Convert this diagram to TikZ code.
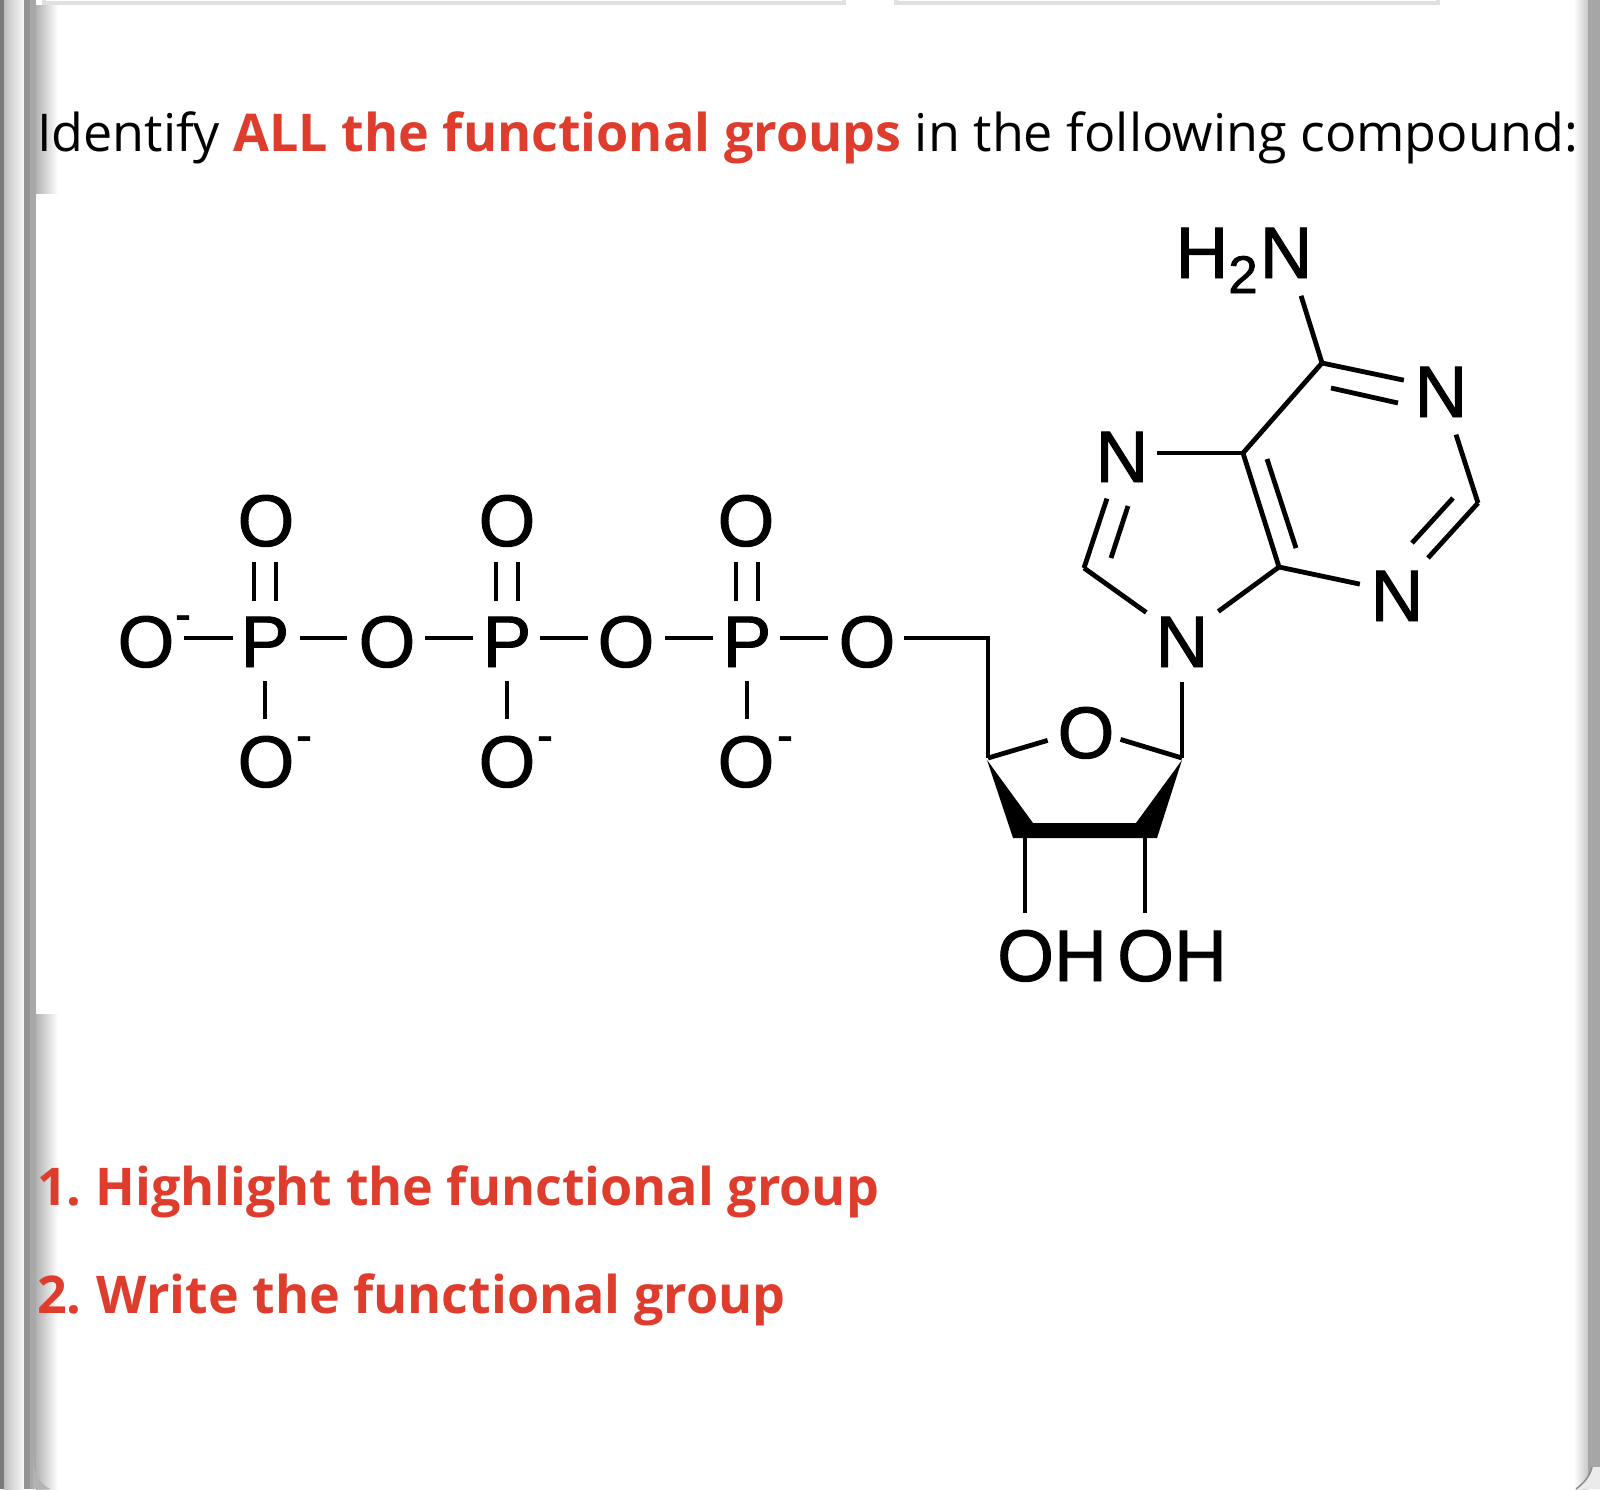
\documentclass[tikz,border=0pt]{standalone}
\usepackage{fontspec}
\setmainfont{Open Sans}
\newfontfamily\chemfont[FakeBold=1.3]{Liberation Sans}
\definecolor{qred}{HTML}{DE3D2E}
\tikzset{
  atom/.style={inner sep=0pt,outer sep=0pt,text height=58pt,text depth=0pt,anchor=center,
    font=\chemfont\fontsize{73}{80}\selectfont},
  charge/.style={inner sep=0pt,outer sep=0pt,anchor=center,font=\chemfont\fontsize{48}{50}\selectfont},
  bondline/.style={line width=4.8pt,black,line cap=butt,line join=miter},
  wedgefill/.style={fill=black,draw=none},
  titletext/.style={inner sep=0pt,outer sep=0pt,anchor=base west,font=\fontsize{52.07}{60}\selectfont},
  redtext/.style={titletext,text=qred,font=\fontsize{52}{60}\selectfont\bfseries},
  boxedge/.style={draw=black!12,line width=4pt}
}
\begin{document}
\begin{tikzpicture}[x=1pt,y=-1pt]
\useasboundingbox (0,0) rectangle (1600,1489);
\fill[white] (0,0) rectangle (1600,1489);
% window edges
\fill[black!52] (0,0) rectangle (4,1489);
\shade[left color=black!25,right color=black!2] (4,0) rectangle (24,1489);
\fill[black!42] (24,0) rectangle (30,1489);
\fill[black!34] (30,0) rectangle (36,1489);
\shade[left color=black!30,right color=white] (36,5) rectangle (58,193);
\shade[left color=black!30,right color=white] (36,1014) rectangle (58,1489);
\shade[left color=white,right color=black!22] (1574,0) rectangle (1588,1489);
\fill[black!35] (1588,0) rectangle (1600,1489);
\fill[black!30] (33,1460) .. controls (35,1475) and (40,1484) .. (50,1489) -- (33,1489) -- cycle;
\fill[black!8] (1592,1467) .. controls (1590,1476) and (1584,1483) .. (1576,1489) -- (1600,1489) -- (1600,1467) -- cycle;
\draw[black!45,line width=1.5pt] (1592,1467) .. controls (1590,1476) and (1584,1483) .. (1576,1489);
% top boxes
\draw[boxedge] (44,0) -- (44,3) -- (844,3) -- (844,0);
\draw[boxedge] (896,0) -- (896,3) -- (1438,3) -- (1438,0);

% texts
\node[titletext] (title) at (37,151) {Identify \textcolor{qred}{\bfseries ALL the functional groups} in the following compound:};
\node[redtext] (item1) at (37,1205) {1.\kern-4pt{} Highlight the functional group};
\node[redtext] (item2) at (37,1313) {2.\kern-3pt{} Write the functional group};

% phosphate atoms
\node[atom] (O0) at (146,638) {O};
\node[atom] (P1) at (265,638) {P};
\node[atom] (O1) at (387,638) {O};
\node[atom] (P2) at (507,638) {P};
\node[atom] (O2) at (626,638) {O};
\node[atom] (P3) at (747,638) {P};
\node[atom] (O3) at (867,638) {O};
\node[atom] (T1) at (266,517) {O};
\node[atom] (T2) at (507,517) {O};
\node[atom] (T3) at (746,517) {O};
\node[atom] (B1) at (266,758) {O};
\node[atom] (B2) at (507,758) {O};
\node[atom] (B3) at (746,758) {O};
\node[charge] (m0) at (183,623) {-};
\node[charge] (m1) at (304,744) {-};
\node[charge] (m2) at (545,744) {-};
\node[charge] (m3) at (785,744) {-};

% phosphate bonds
\draw[bondline,shorten <=38pt,shorten >=32pt] (O0.center) -- (P1.center);
\draw[bondline,shorten <=35pt,shorten >=40pt] (P1.center) -- (O1.center);
\draw[bondline,shorten <=38pt,shorten >=34pt] (O1.center) -- (P2.center);
\draw[bondline,shorten <=33pt,shorten >=38pt] (P2.center) -- (O2.center);
\draw[bondline,shorten <=39pt,shorten >=34pt] (O2.center) -- (P3.center);
\draw[bondline,shorten <=33pt,shorten >=39pt] (P3.center) -- (O3.center);
\foreach \pp/\tt/\bb in {P1/T1/B1,P2/T2/B2,P3/T3/B3}{
  \draw[bondline,shorten <=37pt,shorten >=45pt] ([xshift=-11pt]\pp.center) -- ([xshift=-11pt]\pp.center |- \tt.center);
  \draw[bondline,shorten <=37pt,shorten >=45pt] ([xshift=11pt]\pp.center) -- ([xshift=11pt]\pp.center |- \tt.center);
  \draw[bondline,shorten <=43pt,shorten >=39pt] (\pp.center) -- (\pp.center |- \bb.center);
}

% sugar
\coordinate (C5p) at (988,638);
\coordinate (C4p) at (988,758);
\coordinate (C1p) at (1182,758);
\coordinate (C3p) at (1025,838);
\coordinate (C2p) at (1145,838);
\coordinate (WA) at (987,760);
\coordinate (WB) at (1013,838);
\coordinate (WC) at (1157,838);
\coordinate (WD) at (1182,760);
\coordinate (WE) at (1136,823);
\coordinate (WF) at (1033,823);
\node[atom] (Or) at (1086,729) {O};
\node[atom] (OH1) at (1052,952) {OH};
\node[atom] (OH2) at (1172,952) {OH};
\draw[bondline,shorten <=37pt] (O3.center) -- (C5p) -- (C4p);
\draw[bondline,shorten >=40pt] (C4p) -- (Or.center);
\draw[bondline,shorten >=36pt] (C1p) -- (Or.center);
\fill[wedgefill] (WA) -- (WB) -- (WC) -- (WD) -- (WE) -- (WF) -- cycle;
\draw[bondline,shorten >=39pt] (C3p) -- (C3p |- OH1.center);
\draw[bondline,shorten >=39pt] (C2p) -- (C2p |- OH2.center);

% adenine
\coordinate (C6) at (1322,363);
\coordinate (C5) at (1243,453);
\coordinate (C4) at (1279,567);
\coordinate (C2) at (1478,503);
\coordinate (C8) at (1084,568);
\node[atom] (N1) at (1441,388) {N};
\node[atom] (N3) at (1397,592) {N};
\node[atom] (N7) at (1122,453) {N};
\node[atom] (N9) at (1182,638) {N};
\node[atom] (NH) at (1244,249) {H\raisebox{-15pt}{\fontsize{53}{53}\selectfont 2}\kern2pt N};
\coordinate (a1) at (1331,388); \coordinate (a2) at (1398,403);
\coordinate (b1) at (1453,498); \coordinate (b2) at (1412,543);
\coordinate (c1) at (1296,548); \coordinate (c2) at (1267,459);
\coordinate (d1) at (1128,506); \coordinate (d2) at (1111,558);
\draw[bondline,shorten >=44pt] (C1p) -- (N9.center);
\draw[bondline,shorten >=49pt] (C6) -- ([xshift=-26pt]NH.east);
\draw[bondline,shorten >=38pt] (C6) -- (N1.center);
\draw[bondline] (a1) -- (a2);
\draw[bondline,shorten >=49pt] (C2) -- (N1.center);
\draw[bondline,shorten >=46pt] (C2) -- (N3.center);
\draw[bondline] (b1) -- (b2);
\draw[bondline,shorten >=38pt] (C4) -- (N3.center);
\draw[bondline] (C4) -- (C5);
\draw[bondline] (c1) -- (c2);
\draw[bondline] (C5) -- (C6);
\draw[bondline,shorten >=35pt] (C5) -- (N7.center);
\draw[bondline,shorten >=48pt] (C8) -- (N7.center);
\draw[bondline] (d1) -- (d2);
\draw[bondline,shorten >=44pt] (C8) -- (N9.center);
\draw[bondline,shorten >=45pt] (C4) -- (N9.center);
\end{tikzpicture}
\end{document}
